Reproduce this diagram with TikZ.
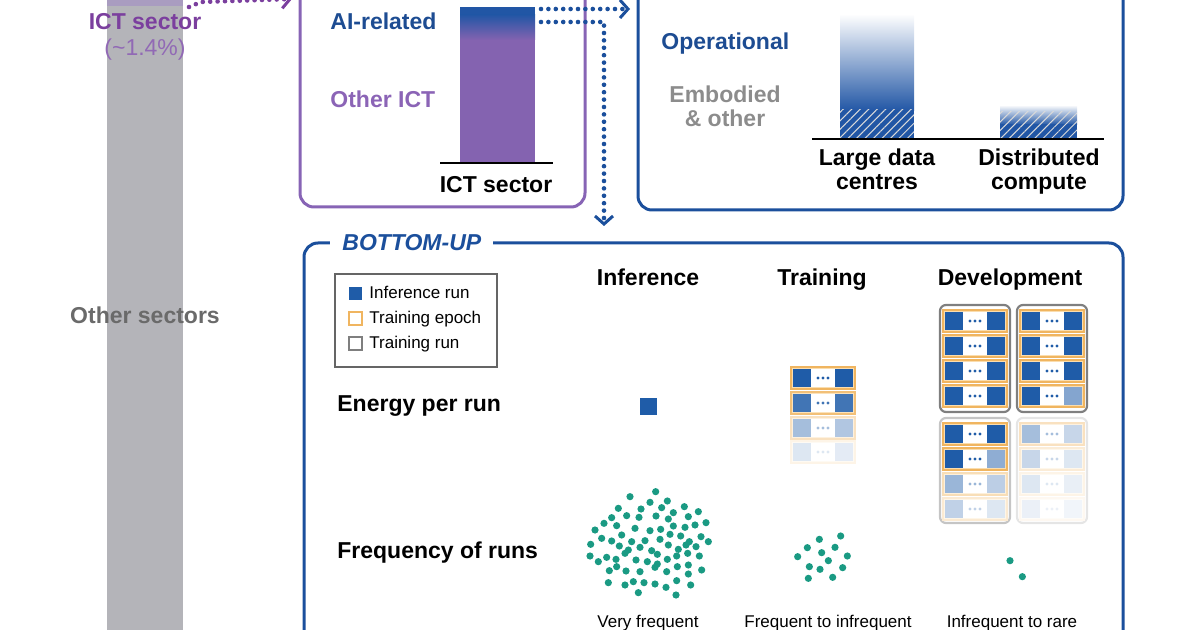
\documentclass[tikz,border=0pt]{standalone}
\usepackage{fontspec}
\setmainfont{Liberation Sans}
\usetikzlibrary{arrows.meta,patterns.meta}
\definecolor{bgray}{HTML}{B4B4B9}
\definecolor{ictstrip}{HTML}{A99CC0}
\definecolor{ictpurple}{HTML}{7B3F9E}
\definecolor{pctpurple}{HTML}{9169B5}
\definecolor{boxpurple}{HTML}{8764B5}
\definecolor{barpurple}{HTML}{8463B0}
\definecolor{otherict}{HTML}{8B64B6}
\definecolor{boxblue}{HTML}{1B4F9C}
\definecolor{txtblue}{HTML}{1D4C92}
\definecolor{barblue}{HTML}{2156A5}
\definecolor{othergray}{HTML}{6A6A6A}
\definecolor{embgray}{HTML}{8C8C8C}
\definecolor{runblue}{HTML}{1F5CA8}
\definecolor{epfill}{HTML}{FADDAE}
\definecolor{epedge}{HTML}{F0B560}
\definecolor{rungray}{HTML}{7F7F7F}
\definecolor{tealdot}{HTML}{1A9A83}

\newcommand\trainrow[4]{%
  \begin{scope}[shift={(#1,#2)}]
    \fill[epfill!#3!white] (0,0) rectangle (64,22);
    \draw[epedge!#3!white, line width=0.6pt] (0,0) rectangle (64,22);
    \fill[runblue!#3!white] (2,2) rectangle (20,20);
    \fill[white] (20,2) rectangle (44,20);
    \fill[runblue!#4!white] (44,2) rectangle (62,20);
    \foreach \dx in {27,32,37} \fill[runblue!#3!white] (\dx,11) circle (0.8pt);
  \end{scope}}

\begin{document}
\begin{tikzpicture}[x=0.5pt,y=-0.5pt,
  hd/.style={font=\bfseries\fontsize{11.5}{13}\selectfont, inner sep=0pt},
  rg/.style={font=\fontsize{11.5}{13}\selectfont, inner sep=0pt},
  sm/.style={font=\fontsize{8.5}{10}\selectfont, inner sep=0pt},
  dotline/.style={line width=2.3pt, dash pattern=on 0pt off 3.7pt, line cap=round},
  tip/.style={-{Straight Barb[length=4pt,width=9pt,line width=1.5pt]}},
  frame/.style={line width=1.5pt, rounded corners=7pt},
  tdot/.style={fill=tealdot},
  runbox/.style={rounded corners=3pt, line width=1.1pt}]
\useasboundingbox (0,0) rectangle (1200,630);
\clip (0,0) rectangle (1200,630);

% ---- global sectors bar
\fill[bgray] (107,0) rectangle (183,640);
\fill[ictstrip] (107,0) rectangle (183,6);
\node[hd, text=ictpurple, anchor=base] (ictlab) at (145,30) {ICT sector};
\node[rg, text=pctpurple, anchor=base] (ictpct) at (145,56) {(\textasciitilde1.4\%)};
\node[hd, text=othergray, anchor=base] (oslab) at (145,324) {Other sectors};

% ---- ICT box
\draw[boxpurple, frame] (300,-30) rectangle (585,207);
\fill[barpurple] (460,38) rectangle (535,162);
\fill[barblue] (460,7) rectangle (535,15);
\shade[top color=barblue, bottom color=barpurple] (460,14.5) rectangle (535,40);
\draw[line width=1.2pt] (440,163) -- (553,163);
\node[hd, text=txtblue, anchor=base west] (ailab) at (330,30) {AI-related};
\node[hd, text=otherict, anchor=base west] (oictlab) at (330,108) {Other ICT};
\node[hd, anchor=base] (ictsec) at (496,193) {ICT sector};

% ---- connectors
\coordinate (ictsrc) at (189,7);
\coordinate (ictdst) at (292,-1);
\draw[dotline, ictpurple, tip] (ictsrc) -- (201,2) -- (ictdst);
\coordinate (barR1) at (541,9);
\coordinate (tdin) at (630,9);
\draw[dotline, boxblue, tip] (barR1) -- (tdin);
\coordinate (barR2) at (541,22);
\coordinate (buin) at (604,226);
\draw[dotline, boxblue, tip] (barR2) -| (buin);

% ---- top-down box
\draw[boxblue, frame] (638,-30) rectangle (1123,210);
\node[hd, text=txtblue, anchor=base west] (oplab) at (661,50) {Operational};
\node[hd, text=embgray, anchor=base] (emb1) at (725,103) {Embodied};
\node[hd, text=embgray, anchor=base] (emb2) at (725,127) {\& other};
\shade[top color=white, middle color=barblue!60!white, bottom color=barblue] (840,14) rectangle (914,111);
\fill[barblue] (840,110) rectangle (914,138);
\fill[pattern={Lines[angle=45,distance=3pt,line width=0.5pt]}, pattern color=white!70!gray] (840,110) rectangle (914,138);
\shade[top color=white, bottom color=barblue] (1000,105) rectangle (1077,125);
\fill[barblue] (1000,124) rectangle (1077,138);
\fill[pattern={Lines[angle=45,distance=3pt,line width=0.5pt]}, pattern color=white!70!gray] (1000,112) rectangle (1077,138);
\draw[line width=1.2pt] (812,139) -- (1104,139);
\node[hd, anchor=base] (ldc1) at (877,166) {Large data};
\node[hd, anchor=base] (ldc2) at (877,190) {centres};
\node[hd, anchor=base] (dc1) at (1039,166) {Distributed};
\node[hd, anchor=base] (dc2) at (1039,190) {compute};

% ---- bottom-up box
\draw[boxblue, frame] (304,243) rectangle (1123,680);
\node[font=\bfseries\itshape\fontsize{11.5}{13}\selectfont, text=boxblue, fill=white,
      inner xsep=6pt, inner ysep=2pt, anchor=west] (bulab) at (330,243) {BOTTOM-UP};

% legend
\draw[rungray!80!black, line width=0.6pt] (335,274) rectangle (497,367);
\fill[runblue] (349,287) rectangle (362,300);
\draw[epedge, line width=0.6pt] (349,312) rectangle (362,325);
\draw[rungray, line width=0.6pt] (349,337) rectangle (362,350);
\node[sm, anchor=base west] (lg1) at (369,299) {Inference run};
\node[sm, anchor=base west] (lg2) at (369,324) {Training epoch};
\node[sm, anchor=base west] (lg3) at (369,349) {Training run};

% headers
\node[hd, anchor=base] (hinf) at (648,286) {Inference};
\node[hd, anchor=base] (htr) at (822,286) {Training};
\node[hd, anchor=base] (hdev) at (1010,286) {Development};
\node[hd, anchor=base west] (reng) at (337,412) {Energy per run};
\node[hd, anchor=base west] (rfreq) at (337,559) {Frequency of runs};

% inference run
\fill[runblue] (640,398) rectangle (657,415);

% training run
\trainrow{791}{367}{100}{100}
\trainrow{791}{392}{85}{85}
\trainrow{791}{417}{40}{35}
\trainrow{791}{441}{15}{12}

% development
\draw[rungray, runbox] (940,305) rectangle (1010,412);
\trainrow{943}{310}{100}{100}
\trainrow{943}{335}{100}{100}
\trainrow{943}{360}{100}{100}
\trainrow{943}{385}{100}{100}
\draw[rungray, runbox] (1017,305) rectangle (1087,412);
\trainrow{1020}{310}{100}{100}
\trainrow{1020}{335}{100}{100}
\trainrow{1020}{360}{100}{100}
\trainrow{1020}{385}{100}{55}
\draw[rungray!45!white, runbox] (940,418) rectangle (1010,523);
\trainrow{943}{423}{100}{100}
\trainrow{943}{448}{100}{50}
\trainrow{943}{473}{45}{30}
\trainrow{943}{498}{28}{15}
\draw[rungray!20!white, runbox] (1017,418) rectangle (1087,523);
\trainrow{1020}{423}{40}{25}
\trainrow{1020}{448}{25}{15}
\trainrow{1020}{473}{15}{10}
\trainrow{1020}{498}{9}{6}

% frequency dots
\begin{scope}[shift={(570,470)}, x=0.16667pt, y=-0.16667pt]
\foreach \a/\b in {257/65,180/80,240/97,292/93,145/115,213/117,275/113,343/110,310/128,385/125,
 102/160,125/143,170/137,207/142,258/138,295/147,355/140,75/180,140/167,195/175,240/182,272/178,
 310/168,345/172,375/165,408/158,95/205,125/213,155/195,185/215,225/212,270/208,300/193,332/198,
 358/215,393/200,415/215,62/223,148/228,175/240,210/232,245/242,262/253,295/225,325/238,348/225,
 378/230,60/258,85/275,110/262,138/268,165/250,198/270,232/275,262/282,292/268,320/258,353/250,
 388/258,118/302,140/290,168/303,210/305,255/292,290/305,322/290,355/285,395/300,115/338,165/345,
 190/335,222/338,255/342,288/352,320/332,355/312,362/345,205/368,318/375,
 748/208,812/198,712/233,795/232,683/260,755/248,832/258,775/272,718/290,750/298,818/293,715/325,788/322,
 1320/272,1357/320}
  \fill[tdot] (\a,\b) circle (1.8pt);
\end{scope}

\node[sm, anchor=base] (finf) at (648,627) {Very frequent};
\node[sm, anchor=base] (ftr) at (828,627) {Frequent to infrequent};
\node[sm, anchor=base] (fdev) at (1012,627) {Infrequent to rare};
\end{tikzpicture}
\end{document}
